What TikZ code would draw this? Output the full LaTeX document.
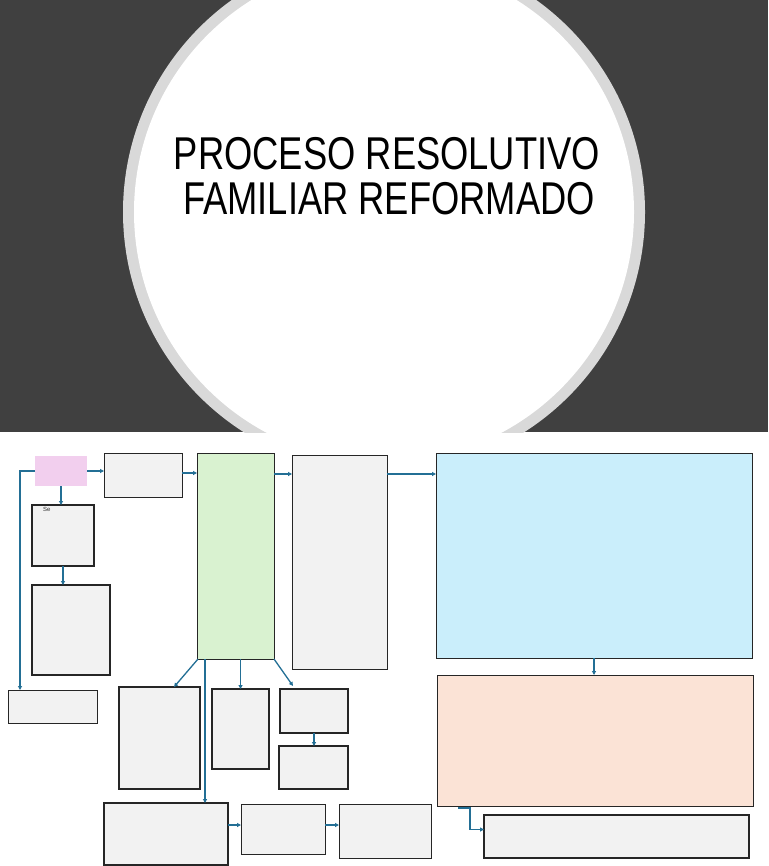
\documentclass[tikz,border=0pt]{standalone}
\usepackage{fontspec}
\setmainfont{Liberation Sans}
\usetikzlibrary{arrows.meta,calc}
\definecolor{darkbg}{HTML}{404040}
\definecolor{ringc}{HTML}{D9D9D9}
\definecolor{pinkc}{HTML}{F2CFEE}
\definecolor{greenc}{HTML}{D9F2D0}
\definecolor{bluec}{HTML}{CAEEFB}
\definecolor{peachc}{HTML}{FBE3D6}
\definecolor{grayc}{HTML}{F2F2F2}
\definecolor{edgec}{HTML}{262626}
\definecolor{connc}{HTML}{236F95}
\tikzset{
  boxbase/.style={rectangle, inner sep=0pt, outer sep=0pt, anchor=north west},
  gbox/.style={boxbase, fill=grayc, draw=edgec, line width=1pt},
  conn/.style={draw=connc, line width=1.3pt, -{Triangle[length=4pt,width=4pt]}},
  plainconn/.style={draw=connc, line width=1.3pt},
  titlet/.style={font=\fontsize{46}{50}\selectfont, text=black, inner sep=0pt, anchor=base}
}
\newcommand{\boxat}[6]{% style, name, x1, y1, x2, y2
  \node[#1, minimum width={(#5-#3)*1pt}, minimum height={(#6-#4)*1pt}] (#2) at (#3,#4) {};}
\begin{document}
\begin{tikzpicture}[x=1pt,y=-1pt]
\useasboundingbox (0,0) rectangle (768,866);
\fill[white] (0,0) rectangle (768,866);
\fill[darkbg] (0,0) rectangle (768,432);
\begin{scope}
  \clip (0,0) rectangle (768,432);
  \fill[ringc] (384,212) circle[radius=261pt];
  \fill[white] (384,212) circle[radius=250pt];
\end{scope}
\node[titlet] (t1) at (387,170) {\scalebox{0.79}[1]{PROCESO RESOLUTIVO}};
\node[titlet] (t2) at (389,215) {\scalebox{0.79}[1]{FAMILIAR REFORMADO}};

% boxes
\boxat{boxbase, fill=pinkc}{pink}{35}{456}{87}{486}
\boxat{gbox}{A}{104}{453}{182}{497}
\boxat{gbox, line width=1.3pt}{se}{32}{505}{94}{566}
\boxat{gbox, line width=1.3pt}{C}{32}{585}{110}{675}
\boxat{gbox}{D}{8}{690}{97}{723}
\boxat{boxbase, fill=greenc, draw=edgec, line width=1pt}{green}{197}{453}{274}{659}
\boxat{gbox}{F}{292}{455}{387}{669}
\boxat{boxbase, fill=bluec, draw=edgec, line width=1pt}{blue}{436}{453}{752}{658}
\boxat{boxbase, fill=peachc, draw=edgec, line width=1pt}{peach}{437}{675}{753}{806}
\boxat{gbox, line width=1.2pt}{R}{484}{815}{749}{858}
\boxat{gbox, line width=1.2pt}{G}{119}{687}{200}{789}
\boxat{gbox, line width=1.2pt}{H}{212}{689}{269}{769}
\boxat{gbox, line width=1.2pt}{I}{280}{689}{348}{733}
\boxat{gbox, line width=1.2pt}{J}{279}{746}{348}{789}
\boxat{gbox, line width=1.2pt}{K}{104}{803}{228}{865}
\boxat{gbox}{L}{241}{804}{325}{854}
\boxat{gbox}{M}{339}{804}{431}{858}

\node[font=\fontsize{6}{7}\selectfont, text=black!80, inner sep=0pt, anchor=west] (setxt) at (43,509) {Se};

% connectors
\draw[conn] (pink.east) -- (pink.east -| A.west);
\coordinate (a1) at ($(A.north east)+(0,20)$);
\draw[conn] (a1) -- (a1 -| green.west);
\coordinate (g1) at ($(green.north east)+(0,21)$);
\draw[conn] (g1) -- (g1 -| F.west);
\coordinate (f1) at ($(F.north east)+(0,19)$);
\draw[conn] (f1) -- (f1 -| blue.west);
\draw[conn] (pink.south) -- (pink.south |- se.north);
\draw[conn] (se.south) -- (se.south |- C.north);
\draw[conn] (pink.west) -| ([xshift=12pt]D.north west);
\draw[conn] ([xshift=1pt]green.south west) -- ([xshift=55pt]G.north west);
\draw[conn] (H.north |- green.south) -- (H.north);
\draw[conn] (green.south east) -- ([xshift=13pt,yshift=3pt]I.north west);
\coordinate (g2) at ($(green.south west)+(8,0)$);
\draw[conn] (g2) -- (g2 |- K.north);
\draw[conn] (I.south) -- (I.south |- J.north);
\coordinate (l1) at ($(L.west)+(0,-4)$);
\draw[conn] (l1 -| K.east) -- (l1);
\coordinate (m1) at ($(M.west)+(0,-6)$);
\draw[conn] (m1 -| L.east) -- (m1);
\draw[conn] (blue.south) -- (blue.south |- peach.north);
\coordinate (p1) at ($(peach.south west)+(21,2)$);
\coordinate (r1) at ($(R.west)+(0,-7)$);
\draw[conn] (p1) -- ++(12,0) |- (r1);
\end{tikzpicture}
\end{document}
